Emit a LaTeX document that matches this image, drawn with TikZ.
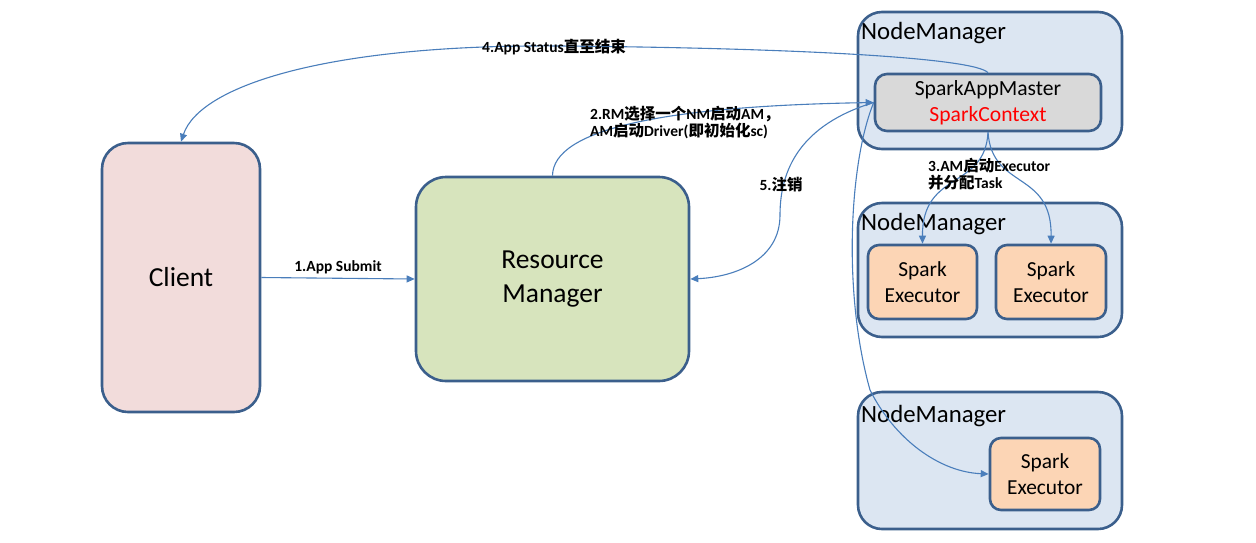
\documentclass[tikz,border=0pt]{standalone}
\usepackage{fontspec}
\setmainfont{Carlito}
\newfontfamily\cjk{Noto Sans CJK SC}
\usetikzlibrary{arrows.meta, positioning}
\definecolor{boxline}{HTML}{3B5F8C}
\definecolor{flowblue}{HTML}{4A7EBB}
\definecolor{clientfill}{HTML}{F2DCDB}
\definecolor{rmfill}{HTML}{D7E4BD}
\definecolor{nmfill}{HTML}{DCE6F2}
\definecolor{amfill}{HTML}{D9D9D9}
\definecolor{exfill}{HTML}{FCD5B5}

\begin{document}
\begin{tikzpicture}[x=1pt, y=-1pt, >={Triangle[length=8pt,width=7pt]}]
  \tikzset{
    box/.style={draw=boxline, line width=2.6pt, align=center, inner sep=0pt},
    nmbox/.style={box, fill=nmfill, rounded corners=24pt, minimum width=264pt},
    exbox/.style={box, fill=exfill, rounded corners=11pt, font=\fontsize{21.4}{26}\selectfont},
    nmtitle/.style={anchor=west, inner sep=0pt, font=\fontsize{24.8}{28}\selectfont},
    flow/.style={->, draw=flowblue, line width=1.1pt},
    steplabel/.style={inner sep=0pt, align=left, font=\bfseries\fontsize{15.5}{17}\selectfont}
  }
  \useasboundingbox (0,0) rectangle (1256,542);
  % Client and ResourceManager
  \node[box, fill=clientfill, rounded corners=26pt, minimum width=158pt, minimum height=269pt,
        font=\fontsize{27.5}{33}\selectfont] (client) at (181,277.5) {Client};
  \node[box, fill=rmfill, rounded corners=30pt, minimum width=273pt, minimum height=204pt,
        font=\fontsize{27.5}{34}\selectfont] (rm) at (552.5,279) {Resource\\Manager};
  % NodeManagers
  \node[nmbox, minimum height=137pt] (nm1) at (990,80.5) {};
  \node[nmtitle] (nm1t) at (861,33) {NodeManager};
  \node[box, fill=amfill, rounded corners=12pt, minimum width=226pt, minimum height=57pt,
        font=\fontsize{21.6}{26}\selectfont] (am) at (988,102.5) {SparkAppMaster\\\textcolor{red}{SparkContext}};
  \node[nmbox, minimum height=134pt] (nm2) at (990,270) {};
  \node[nmtitle] (nm2t) at (861,224) {NodeManager};
  \node[exbox, minimum width=109pt, minimum height=74pt] (ex1) at (922.5,282) {Spark\\Executor};
  \node[exbox, minimum width=110pt, minimum height=74pt] (ex2) at (1051,282) {Spark\\Executor};
  \node[nmbox, minimum height=137pt] (nm3) at (990,460.5) {};
  \node[nmtitle] (nm3t) at (861,416) {NodeManager};
  \node[exbox, minimum width=110pt, minimum height=72pt] (ex3) at (1045,474) {Spark\\Executor};
  % 1. submit
  \draw[flow] (client.east) -- node[steplabel, above=4pt]{1.App Submit} (rm.west);
  % 2. RM starts AM
  \draw[flow] (rm.north) .. controls (553,130) and (660,106) .. (am.west);
  \node[steplabel, anchor=west] (l2) at (590,123)
    {2.RM{\cjk 选择一个}NM{\cjk 启动}AM{\cjk ，}\\AM{\cjk 启动}Driver({\cjk 即初始化}sc)};
  % 3. AM starts executors
  \draw[flow] (am.south) .. controls (985,190) and (922,170) .. (ex1.north);
  \draw[flow] (am.south) .. controls (992,190) and (1052,170) .. (ex2.north);
  \draw[flow] (am.west) .. controls (850,160) and (842,290) .. (870,390)
    .. controls (895,440) and (940,472) .. (ex3.west);
  \node[steplabel, anchor=north west] (l3) at (928,158) {3.AM{\cjk 启动}Executor\\{\cjk 并分配}Task};
  % 4. status back to client
  \draw[flow] (am.north) .. controls (975,58) and (800,48) .. (560,46)
    .. controls (330,44) and (200,85) .. (client.north);
  \node[steplabel] (l4) at (554,47) {4.App Status{\cjk 直至结束}};
  % 5. unregister
  \draw[flow] (am.west) .. controls (800,125) and (780,170) .. (780,215)
    .. controls (780,260) and (735,277) .. (rm.east);
  \node[steplabel] (l5) at (781,185) {5.{\cjk 注销}};
\end{tikzpicture}
\end{document}
